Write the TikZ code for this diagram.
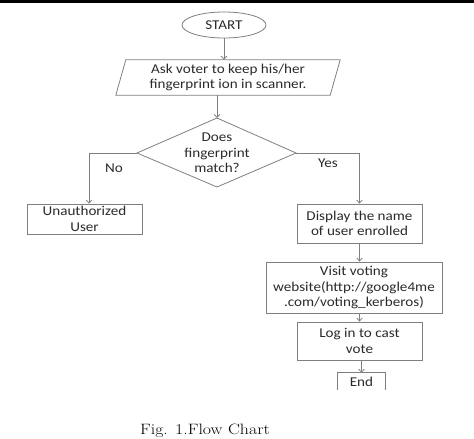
\documentclass[tikz,border=0pt]{standalone}
\usepackage{fontspec}
\setsansfont{Carlito}[FakeStretch=1.12]
\usetikzlibrary{arrows.meta,shapes.geometric,calc}
\definecolor{linegray}{HTML}{7F7F7F}
\definecolor{txtgray}{HTML}{2A2A2A}
\begin{document}
\begin{tikzpicture}[x=1pt,y=-1pt,
  every node/.style={font=\sffamily\fontsize{13.5}{15.5}\selectfont, text=txtgray, align=center, inner sep=0pt},
  boxnode/.style={draw=linegray, line width=0.8pt, rectangle},
  flowline/.style={draw=linegray, line width=0.8pt},
  flowarrow/.style={flowline, -{Straight Barb[length=3pt,width=5.5pt]}}]
\useasboundingbox (0,0) rectangle (474,439);
\fill[black] (0,0) rectangle (474,3);
% start
\node[ellipse, draw=linegray, line width=0.8pt, minimum width=84pt, minimum height=26pt] (start) at (224,25) {START};
% parallelogram
\node[rectangle, minimum width=214pt, minimum height=35pt] (ask) at (228,77.5) {Ask voter to keep his/her\\fingerprint ion in scanner.};
\draw[flowline] ($(ask.north west)+(5,0)$) -- ($(ask.north east)+(5,0)$) -- ($(ask.south east)+(-5,0)$) -- ($(ask.south west)+(-5,0)$) -- cycle;
% diamond
\coordinate (dT) at (217,118);
\coordinate (dL) at (137,153);
\coordinate (dR) at (296,153);
\coordinate (dB) at (217,187);
\draw[flowline] (dT) -- (dR) -- (dB) -- (dL) -- cycle;
\node (dec) at (217,153) {Does\\fingerprint\\match?};
% boxes
\node[boxnode, minimum width=115pt, minimum height=30pt] (unauth) at (84.5,219) {Unauthorized\\User};
\node[boxnode, minimum width=125pt, minimum height=39pt] (disp) at (359.5,223.5) {Display the name\\of user enrolled};
\node[boxnode, minimum width=176pt, minimum height=51pt] (visit) at (354,287.5) {Visit voting\\website(http://google4me\\.com/voting\_kerberos)};
\node[boxnode, minimum width=125pt, minimum height=38pt] (log) at (359.5,341) {Log in to cast\\vote};
\node[minimum width=47pt, minimum height=17pt] (end) at (361.5,381.5) {End};
\draw[flowline] (end.south west) -- (end.north west) -- (end.north east) -- (end.south east);
% labels
\node (no) at (114,168) {No};
\node (yes) at (328,163) {Yes};
% connectors
\draw[flowarrow] (start.south) -- (start.south |- ask.north);
\draw[flowarrow] (ask.south -| dT) -- (dT);
\draw[flowarrow] (dL) -| ($(unauth.north)+(4.5,0)$);
\draw[flowarrow] (dR) -| (disp.north);
\draw[flowarrow] (disp.south) -- (disp.south |- visit.north);
\draw[flowarrow] (visit.south -| log.north) -- (log.north);
\draw[flowarrow] (log.south -| end.north) -- (end.north);
% caption
\node[font=\rmfamily\fontsize{15}{17}\selectfont, text=black, anchor=base] (cap) at (205,434.5) {\scalebox{1.19}[1]{Fig. 1.Flow Chart}};
\end{tikzpicture}
\end{document}
